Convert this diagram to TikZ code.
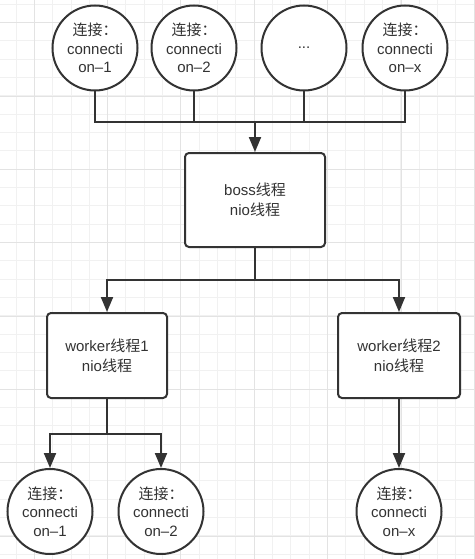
\documentclass[tikz,border=0pt]{standalone}
\usepackage{fontspec}
\setmainfont{Liberation Sans}
\newfontfamily\cjk{Noto Sans CJK SC}
\usepackage{tikz}
\usetikzlibrary{arrows.meta}
\definecolor{ink}{HTML}{333333}
\definecolor{gridminor}{HTML}{F1F1F1}
\definecolor{gridmajor}{HTML}{E3E3E3}
\tikzstyle{conn} = [circle, minimum size=85pt, inner sep=0pt, align=center, draw=ink, line width=2pt, fill=white, text=ink, font=\fontsize{15}{18.5}\selectfont]
\tikzstyle{thread} = [rectangle, rounded corners=4pt, minimum width=120pt, minimum height=85pt, align=center, draw=ink, line width=2pt, fill=white, text=ink, font=\fontsize{15}{20}\selectfont]
\tikzstyle{line} = [draw=ink, line width=2pt]
\tikzstyle{arrow} = [draw=ink, line width=2pt, -{Triangle[length=15pt,width=12pt]}]

\begin{document}
\begin{tikzpicture}[x=1pt, y=-1pt, node distance=100pt]

	\fill[white] (0,0) rectangle (474,559);
	\useasboundingbox (0,0) rectangle (474,559);
	\foreach \i in {0,...,25} \draw[gridminor, line width=1pt] ({16+18.333*\i},0) -- ++(0,559);
	\foreach \j in {0,...,30} \draw[gridminor, line width=1pt] (0,{4.33+18.333*\j}) -- ++(474,0);
	\foreach \i in {0,...,6} \draw[gridmajor, line width=1pt] ({34.33+73.333*\i},0) -- ++(0,559);
	\foreach \j in {0,...,7} \draw[gridmajor, line width=1pt] (0,{22.67+73.333*\j}) -- ++(474,0);

	\node (c1) [conn] at (95,48) {{\cjk 连接：}\\connecti\\on–1};
	\node (c2) [conn, right of=c1, xshift=-1pt] {{\cjk 连接：}\\connecti\\on–2};
	\node (c3) [conn, right of=c2, xshift=10pt] {...};
	\node (c4) [conn, right of=c3, xshift=1pt] {{\cjk 连接：}\\connecti\\on–x};

	\node (boss) [thread, minimum width=140pt, minimum height=94pt] at (255,200) {boss{\cjk 线程}\\nio{\cjk 线程}};
	\node (w1) [thread] at (107,355.5) {worker{\cjk 线程}1\\nio{\cjk 线程}};
	\node (w2) [thread, minimum width=122pt] at (399,355.5) {worker{\cjk 线程}2\\nio{\cjk 线程}};

	\node (b1) [conn] at (50,511.5) {{\cjk 连接：}\\connecti\\on–1};
	\node (b2) [conn, right of=b1, xshift=11pt] {{\cjk 连接：}\\connecti\\on–2};
	\node (b3) [conn, below of=w2, yshift=-56pt] {{\cjk 连接：}\\connecti\\on–x};

	\coordinate (top) at (255,122);
	\coordinate (mid) at (255,280);
	\coordinate (low) at (107,434);

	\draw [line] (c1.south) |- (top);
	\draw [line] (c2.south) |- (top);
	\draw [line] (c3.south) |- (top);
	\draw [line] (c4.south) |- (top);
	\draw [arrow] (top) -- (boss.north);

	\draw [line] (boss.south) -- (mid);
	\draw [arrow] (mid) -| (w1.north);
	\draw [arrow] (mid) -| (w2.north);

	\draw [line] (w1.south) -- (low);
	\draw [arrow] (low) -| (b1.north);
	\draw [arrow] (low) -| (b2.north);
	\draw [arrow] (w2.south) -- (b3.north);
	\end{tikzpicture}
\end{document}
